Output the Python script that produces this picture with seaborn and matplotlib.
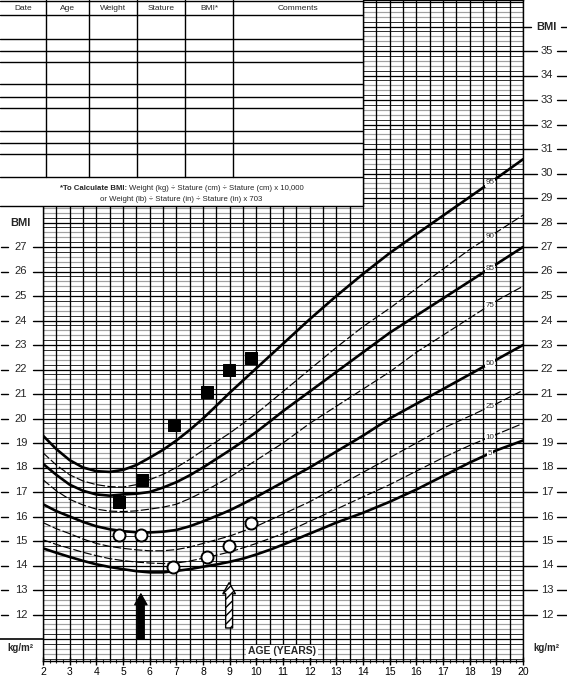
import numpy as np
import pandas as pd
import matplotlib
matplotlib.use("Agg")
import matplotlib.pyplot as plt
import seaborn as sns
from matplotlib import transforms
from matplotlib.lines import Line2D
from matplotlib.patches import Rectangle

# ---------------- data ----------------
ages = [2, 2.5, 3, 3.5, 4, 4.5, 5, 5.5, 6, 6.5, 7, 7.5, 8, 8.5, 9, 9.5, 10, 10.5, 11,
        12, 13, 14, 15, 16, 17, 18, 19, 20]
p95 = [19.3, 18.75, 18.3, 18.0, 17.85, 17.82, 17.9, 18.1, 18.4, 18.72, 19.1, 19.53, 20.0, 20.52, 21.05, 21.55, 22.05, 22.55, 23.05,
       24.05, 25.0, 25.9, 26.75, 27.52, 28.28, 29.04, 29.8, 30.58]
p90 = [18.6, 18.1, 17.7, 17.45, 17.3, 17.22, 17.2, 17.3, 17.5, 17.72, 18.0, 18.33, 18.7, 19.05, 19.4, 19.8, 20.2, 20.65, 21.1,
       22.0, 22.9, 23.75, 24.5, 25.3, 26.1, 26.9, 27.6, 28.3]
p85 = [18.15, 17.7, 17.3, 17.05, 16.9, 16.85, 16.9, 16.93, 17.0, 17.18, 17.4, 17.68, 18.0, 18.35, 18.7, 19.07, 19.45, 19.87, 20.3,
       21.1, 21.9, 22.7, 23.5, 24.2, 24.9, 25.6, 26.3, 27.0]
p75 = [17.5, 17.05, 16.7, 16.47, 16.3, 16.22, 16.2, 16.23, 16.3, 16.38, 16.5, 16.73, 17.0, 17.3, 17.6, 17.95, 18.3, 18.65, 19.0,
       19.8, 20.5, 21.2, 21.9, 22.7, 23.4, 24.1, 24.8, 25.4]
p50 = [16.5, 16.22, 16.0, 15.78, 15.6, 15.48, 15.4, 15.36, 15.35, 15.38, 15.45, 15.6, 15.8, 16.02, 16.25, 16.52, 16.8, 17.1, 17.4,
       18.0, 18.65, 19.3, 20.0, 20.6, 21.2, 21.8, 22.4, 23.0]
p25 = [15.75, 15.5, 15.3, 15.08, 14.9, 14.78, 14.7, 14.64, 14.6, 14.6, 14.65, 14.75, 14.9, 15.05, 15.2, 15.4, 15.6, 15.85, 16.1,
       16.6, 17.2, 17.8, 18.4, 19.0, 19.6, 20.1, 20.6, 21.15]
p10 = [15.05, 14.86, 14.7, 14.54, 14.4, 14.28, 14.2, 14.14, 14.1, 14.08, 14.1, 14.18, 14.3, 14.42, 14.55, 14.72, 14.9, 15.1, 15.3,
       15.8, 16.3, 16.8, 17.3, 17.85, 18.4, 18.9, 19.35, 19.8]
p5 = [14.7, 14.52, 14.35, 14.19, 14.05, 13.94, 13.85, 13.77, 13.72, 13.72, 13.78, 13.85, 13.95, 14.04, 14.15, 14.28, 14.45, 14.64, 14.85,
      15.3, 15.75, 16.15, 16.6, 17.1, 17.65, 18.2, 18.7, 19.1]
percentile_names = ["95", "90", "85", "75", "50", "25", "10", "5"]
percentile_values = [p95, p90, p85, p75, p50, p25, p10, p5]
bold_percentiles = ["95", "85", "50", "5"]

square_ages = [4.86, 5.70, 6.91, 8.14, 8.99, 9.80]
square_bmi = [16.6, 17.5, 19.75, 21.1, 22.0, 22.45]
circle_ages = [4.86, 5.68, 6.89, 8.14, 8.97, 9.80]
circle_bmi = [15.25, 15.25, 13.95, 14.35, 14.8, 15.75]

arrow_ages = [5.67, 8.98]
arrow_tops = [12.85, 13.3]
arrow_bases = [11.0, 11.45]

age_ticks = list(range(2, 21))
left_bmi_ticks = list(range(12, 28))
right_bmi_ticks = list(range(12, 36))
table_headers = ["Date", "Age", "Weight", "Stature", "BMI*", "Comments"]
formula_bold = "*To Calculate BMI: "
formula_line1 = "Weight (kg) \u00f7 Stature (cm) \u00f7 Stature (cm) x 10,000"
formula_line2 = "or Weight (lb) \u00f7 Stature (in) \u00f7 Stature (in) x 703"

# ---------------- layout ----------------
sns.set_theme(style="white")
plt.rcParams["font.family"] = ["Liberation Sans", "DejaVu Sans"]

W, H = 567, 680
fig = plt.figure(figsize=(W / 100, H / 100), dpi=100)
fig.patch.set_facecolor("white")
L, R, B, T = 43, 523, 661, 0
ax = fig.add_axes([L / W, (H - B) / H, (R - L) / W, (B - T) / H])
ax.set_facecolor("white")
pxu = 24.5
y_lo = 12 - (B - 614.5) / pxu
y_hi = 12 + (614.5 - T) / pxu
ax.set_xlim(2, 20)
ax.set_ylim(y_lo, y_hi)

# grid
for k in range(int(np.ceil(y_lo * 5)), int(np.floor(y_hi * 5)) + 1):
    v = k / 5
    r = k % 5
    if r == 0:
        ax.axhline(v, color="black", lw=0.9, zorder=1)
    elif r in (1, 4):
        ax.axhline(v, color="#1e1e1e", lw=0.65, zorder=1)
    else:
        ax.axhline(v, color="#a0a0a0", lw=0.85, zorder=1)
for a in np.arange(2, 20.01, 0.5):
    ax.axvline(a, color="black", lw=0.95, zorder=1.5)

# percentile curves
df = pd.DataFrame({"age": ages})
for name, vals in zip(percentile_names, percentile_values):
    df[name] = vals
for name in percentile_names:
    thick = name in bold_percentiles
    sns.lineplot(data=df, x="age", y=name, ax=ax, color="black",
                 lw=1.9 if thick else 0.85,
                 linestyle="-" if thick else (0, (7, 2)),
                 zorder=3, legend=False)
label_age = 18.76
for name in percentile_names:
    yv = np.interp(label_age, df["age"], df[name])
    ax.text(label_age, yv, name, fontsize=5.8, ha="center", va="center", zorder=4,
            bbox=dict(facecolor="white", edgecolor="none", pad=0.3))

# measurements
sns.scatterplot(x=square_ages, y=square_bmi, ax=ax, marker="s", s=80,
                color="black", edgecolor="black", zorder=5, legend=False)
sns.scatterplot(x=circle_ages, y=circle_bmi, ax=ax, marker="o", s=75,
                color="white", edgecolor="black", linewidth=1.4, zorder=5, legend=False)

# arrows
style = "simple,head_length=0.8,head_width=0.9,tail_width=0.5"
ax.annotate("", xy=(arrow_ages[0], arrow_tops[0]), xytext=(arrow_ages[0], arrow_bases[0]),
            arrowprops=dict(arrowstyle=style, mutation_scale=10, fc="black", ec="black",
                            lw=0.8, shrinkA=0, shrinkB=0), zorder=6)
ax.annotate("", xy=(arrow_ages[1], arrow_tops[1]), xytext=(arrow_ages[1], arrow_bases[1]),
            arrowprops=dict(arrowstyle=style, mutation_scale=10, fc="white", ec="black",
                            lw=1.0, hatch="////", shrinkA=0, shrinkB=0), zorder=6)

# x axis
ax.set_xticks(age_ticks)
ax.set_xticklabels([str(t) for t in age_ticks], fontsize=7.5)
ax.set_xticks(np.arange(2, 20.01, 0.25), minor=True)
ax.tick_params(axis="x", which="major", direction="inout", length=6, width=1,
               pad=1, bottom=True, colors="black")
ax.tick_params(axis="x", which="minor", direction="inout", length=3, width=0.8, bottom=True)
ax.set_yticks([])
ax.set_xlabel("")
ax.set_ylabel("")
for sp in ax.spines.values():
    sp.set_visible(True)
    sp.set_color("black")
    sp.set_linewidth(1.0)

# margin labels
tb = transforms.blended_transform_factory(fig.transFigure, ax.transData)

def mline(x0, x1, y, lw=1.0):
    ax.add_line(Line2D([x0 / W, x1 / W], [y, y], transform=tb, color="black",
                       lw=lw, clip_on=False))

for v in left_bmi_ticks:
    ax.text(21 / W, v, str(v), transform=tb, ha="center", va="center", fontsize=8, clip_on=False)
    mline(1, 8, v)
    mline(33, 43, v)
for v in right_bmi_ticks:
    ax.text(547 / W, v, str(v), transform=tb, ha="center", va="center", fontsize=8, clip_on=False)
    mline(523, 537, v)
    mline(557, 567, v)
ax.text(20 / W, 28, "BMI", transform=tb, ha="center", va="center", fontsize=8,
        fontweight="bold", clip_on=False)
ax.text(546 / W, 36, "BMI", transform=tb, ha="center", va="center", fontsize=8,
        fontweight="bold", clip_on=False)
mline(523, 531, 36)
mline(561, 567, 36)
mline(0, 43, 11.0, lw=1.2)
ax.text(20 / W, 10.63, "kg/m\u00b2", transform=tb, ha="center", va="center", fontsize=7,
        fontweight="bold", clip_on=False)
ax.text(546 / W, 10.63, "kg/m\u00b2", transform=tb, ha="center", va="center", fontsize=7,
        fontweight="bold", clip_on=False)
ax.text(10.96, 10.5, "AGE (YEARS)", ha="center", va="center", fontsize=7.5,
        fontweight="bold", zorder=7,
        bbox=dict(facecolor="white", edgecolor="none", pad=1.2))

# ---------------- record table (figure pixels) ----------------
def fy(p):
    return 1 - p / H

tab_r, tab_b, form_top = 363, 206, 177
fig.add_artist(Rectangle((0, fy(tab_b)), tab_r / W, tab_b / H, transform=fig.transFigure,
                         facecolor="white", edgecolor="none", zorder=5))
col_x = [46, 89, 137, 185, 233]
row_y = [15, 39, 51, 62, 84, 97, 108, 131, 143, 154]

def fline(xs, ys, lw=1.0):
    fig.add_artist(Line2D([x / W for x in xs], [fy(y) for y in ys], transform=fig.transFigure,
                          color="black", lw=lw, zorder=6))

for cx in col_x:
    fline([cx, cx], [0, form_top])
for ry in row_y:
    fline([0, tab_r], [ry, ry])
fline([0, tab_r], [form_top, form_top])
fline([0, tab_r], [tab_b, tab_b])
fline([tab_r, tab_r], [0, tab_b])
fline([0, tab_r], [1, 1])

bounds = [0] + col_x + [tab_r]
for i, hdr in enumerate(table_headers):
    fig.text((bounds[i] + bounds[i + 1]) / 2 / W, fy(8), hdr, ha="center", va="center",
             fontsize=6, zorder=7)

renderer = fig.canvas.get_renderer()
t1 = fig.text(0, fy(188), formula_bold, fontsize=5.6, fontweight="bold", va="center",
              ha="left", zorder=7)
t2 = fig.text(0, fy(188), formula_line1, fontsize=5.6, va="center", ha="left", zorder=7)
w1 = t1.get_window_extent(renderer).width
w2 = t2.get_window_extent(renderer).width
x0 = tab_r / 2 - (w1 + w2) / 2
t1.set_x(x0 / W)
t2.set_x((x0 + w1) / W)
fig.text(tab_r / 2 / W, fy(199), formula_line2, fontsize=5.6, ha="center", va="center", zorder=7)

fig.savefig("out.png", dpi=100, facecolor="white")
